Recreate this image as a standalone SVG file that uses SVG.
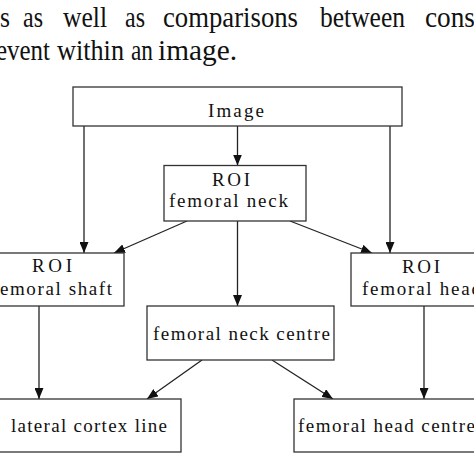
<svg xmlns="http://www.w3.org/2000/svg" width="474" height="474" viewBox="0 0 474 474">
<defs>
<style>
.box{fill:#fff;stroke:#333;stroke-width:1.3}
.lbl{font-family:"Liberation Serif","Times New Roman",serif;font-size:19px;fill:#111}
.para{font-family:"Liberation Serif","Times New Roman",serif;font-size:29px;fill:#111}
.edge{stroke:#222;stroke-width:1.3;fill:none;marker-end:url(#ah)}
</style>
<marker id="ah" markerUnits="userSpaceOnUse" markerWidth="11" markerHeight="9" refX="11" refY="4.5" orient="auto">
<path d="M0,0 L11,4.5 L0,9 z" fill="#111"/>
</marker>
</defs>
<rect width="474" height="474" fill="#fff"/>
<g id="paragraph">
<text class="para" x="0" y="27" textLength="10" lengthAdjust="spacingAndGlyphs">s</text>
<text class="para" x="23" y="27" textLength="20" lengthAdjust="spacingAndGlyphs">as</text>
<text class="para" x="63" y="27" textLength="44" lengthAdjust="spacingAndGlyphs">well</text>
<text class="para" x="125" y="27" textLength="20" lengthAdjust="spacingAndGlyphs">as</text>
<text class="para" x="163" y="27" textLength="135" lengthAdjust="spacingAndGlyphs">comparisons</text>
<text class="para" x="320" y="27" textLength="85" lengthAdjust="spacingAndGlyphs">between</text>
<text class="para" x="425" y="27" textLength="50" lengthAdjust="spacingAndGlyphs">cons</text>
<text class="para" x="-4" y="60" textLength="54" lengthAdjust="spacingAndGlyphs">event</text>
<text class="para" x="57" y="60" textLength="67" lengthAdjust="spacingAndGlyphs">within</text>
<text class="para" x="131" y="60" textLength="22" lengthAdjust="spacingAndGlyphs">an</text>
<text class="para" x="158" y="60" textLength="79" lengthAdjust="spacingAndGlyphs">image.</text>
</g>
<g id="connectors">
<line class="edge" x1="237.5" y1="126" x2="237.5" y2="165.5"/>
<line class="edge" x1="84" y1="126" x2="84" y2="253"/>
<line class="edge" x1="390" y1="126" x2="390" y2="253"/>
<line class="edge" x1="187" y1="221" x2="114" y2="253"/>
<line class="edge" x1="290" y1="221" x2="372" y2="253"/>
<line class="edge" x1="237.5" y1="221" x2="237.5" y2="306"/>
<line class="edge" x1="39" y1="306" x2="39" y2="399"/>
<line class="edge" x1="424" y1="306" x2="424" y2="399"/>
<line class="edge" x1="202" y1="360" x2="147" y2="399"/>
<line class="edge" x1="272" y1="360" x2="333" y2="399"/>
</g>
<g id="image">
<rect class="box" x="73" y="87" width="329" height="39"/>
<text class="lbl" x="208" y="117" textLength="56">Image</text>
</g>
<g id="roi-neck">
<rect class="box" x="164" y="165.5" width="142" height="55.5"/>
<text class="lbl" x="212" y="186" textLength="38">ROI</text>
<text class="lbl" x="169" y="207" textLength="119">femoral neck</text>
</g>
<g id="roi-shaft">
<rect class="box" x="-20" y="253" width="144" height="53"/>
<text class="lbl" x="32" y="272" textLength="40">ROI</text>
<text class="lbl" x="-8" y="295" textLength="120">femoral shaft</text>
</g>
<g id="roi-head">
<rect class="box" x="351" y="253" width="140" height="53"/>
<text class="lbl" x="402" y="273" textLength="38">ROI</text>
<text class="lbl" x="362" y="295" textLength="119">femoral head</text>
</g>
<g id="neck-centre">
<rect class="box" x="147" y="306" width="187" height="54"/>
<text class="lbl" x="153" y="340" textLength="177">femoral neck centre</text>
</g>
<g id="lateral-cortex">
<rect class="box" x="-5" y="399" width="186" height="53"/>
<text class="lbl" x="11" y="432" textLength="156">lateral cortex line</text>
</g>
<g id="head-centre">
<rect class="box" x="294" y="399" width="190" height="53"/>
<text class="lbl" x="298" y="432" textLength="177">femoral head centre</text>
</g>
</svg>
